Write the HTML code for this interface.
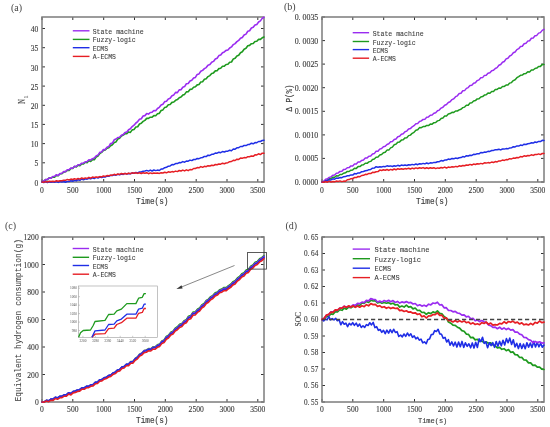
<!DOCTYPE html><html><head><meta charset="utf-8"><style>html,body{margin:0;padding:0;background:#fff;width:550px;height:427px;overflow:hidden}svg{display:block;will-change:transform}</style></head><body><svg width="550" height="427" viewBox="0 0 550 427">
<style>.tk{font-family:"Liberation Serif",serif;font-size:7.6px;fill:#3c3c3c;stroke:#3c3c3c;stroke-width:0.12}.lg{font-family:"Liberation Mono",monospace;fill:#3c3c3c;stroke:#3c3c3c;stroke-width:0.1}.lb{font-family:"Liberation Mono",monospace;fill:#3c3c3c;stroke:#3c3c3c;stroke-width:0.15}.pl{font-family:"Liberation Serif",serif;font-size:10px;fill:#444}</style>
<rect width="550" height="427" fill="#fff"/>
<text x="11" y="11.3" class="pl">(a)</text>
<line x1="42.0" y1="182.0" x2="42.0" y2="179.0" stroke="#333" stroke-width="1"/>
<line x1="42.0" y1="17.0" x2="42.0" y2="20.0" stroke="#333" stroke-width="1"/>
<text x="42.0" y="192.8" text-anchor="middle" class="tk">0</text>
<line x1="72.8" y1="182.0" x2="72.8" y2="179.0" stroke="#333" stroke-width="1"/>
<line x1="72.8" y1="17.0" x2="72.8" y2="20.0" stroke="#333" stroke-width="1"/>
<text x="72.8" y="192.8" text-anchor="middle" class="tk">500</text>
<line x1="103.7" y1="182.0" x2="103.7" y2="179.0" stroke="#333" stroke-width="1"/>
<line x1="103.7" y1="17.0" x2="103.7" y2="20.0" stroke="#333" stroke-width="1"/>
<text x="103.7" y="192.8" text-anchor="middle" class="tk">1000</text>
<line x1="134.5" y1="182.0" x2="134.5" y2="179.0" stroke="#333" stroke-width="1"/>
<line x1="134.5" y1="17.0" x2="134.5" y2="20.0" stroke="#333" stroke-width="1"/>
<text x="134.5" y="192.8" text-anchor="middle" class="tk">1500</text>
<line x1="165.3" y1="182.0" x2="165.3" y2="179.0" stroke="#333" stroke-width="1"/>
<line x1="165.3" y1="17.0" x2="165.3" y2="20.0" stroke="#333" stroke-width="1"/>
<text x="165.3" y="192.8" text-anchor="middle" class="tk">2000</text>
<line x1="196.2" y1="182.0" x2="196.2" y2="179.0" stroke="#333" stroke-width="1"/>
<line x1="196.2" y1="17.0" x2="196.2" y2="20.0" stroke="#333" stroke-width="1"/>
<text x="196.2" y="192.8" text-anchor="middle" class="tk">2500</text>
<line x1="227.0" y1="182.0" x2="227.0" y2="179.0" stroke="#333" stroke-width="1"/>
<line x1="227.0" y1="17.0" x2="227.0" y2="20.0" stroke="#333" stroke-width="1"/>
<text x="227.0" y="192.8" text-anchor="middle" class="tk">3000</text>
<line x1="257.8" y1="182.0" x2="257.8" y2="179.0" stroke="#333" stroke-width="1"/>
<line x1="257.8" y1="17.0" x2="257.8" y2="20.0" stroke="#333" stroke-width="1"/>
<text x="257.8" y="192.8" text-anchor="middle" class="tk">3500</text>
<line x1="42.0" y1="182.0" x2="45.0" y2="182.0" stroke="#333" stroke-width="1"/>
<line x1="264.0" y1="182.0" x2="261.0" y2="182.0" stroke="#333" stroke-width="1"/>
<text x="38.3" y="185.6" text-anchor="end" class="tk">0</text>
<line x1="42.0" y1="162.8" x2="45.0" y2="162.8" stroke="#333" stroke-width="1"/>
<line x1="264.0" y1="162.8" x2="261.0" y2="162.8" stroke="#333" stroke-width="1"/>
<text x="38.3" y="166.4" text-anchor="end" class="tk">5</text>
<line x1="42.0" y1="143.6" x2="45.0" y2="143.6" stroke="#333" stroke-width="1"/>
<line x1="264.0" y1="143.6" x2="261.0" y2="143.6" stroke="#333" stroke-width="1"/>
<text x="38.3" y="147.2" text-anchor="end" class="tk">10</text>
<line x1="42.0" y1="124.4" x2="45.0" y2="124.4" stroke="#333" stroke-width="1"/>
<line x1="264.0" y1="124.4" x2="261.0" y2="124.4" stroke="#333" stroke-width="1"/>
<text x="38.3" y="128.0" text-anchor="end" class="tk">15</text>
<line x1="42.0" y1="105.3" x2="45.0" y2="105.3" stroke="#333" stroke-width="1"/>
<line x1="264.0" y1="105.3" x2="261.0" y2="105.3" stroke="#333" stroke-width="1"/>
<text x="38.3" y="108.9" text-anchor="end" class="tk">20</text>
<line x1="42.0" y1="86.1" x2="45.0" y2="86.1" stroke="#333" stroke-width="1"/>
<line x1="264.0" y1="86.1" x2="261.0" y2="86.1" stroke="#333" stroke-width="1"/>
<text x="38.3" y="89.7" text-anchor="end" class="tk">25</text>
<line x1="42.0" y1="66.9" x2="45.0" y2="66.9" stroke="#333" stroke-width="1"/>
<line x1="264.0" y1="66.9" x2="261.0" y2="66.9" stroke="#333" stroke-width="1"/>
<text x="38.3" y="70.5" text-anchor="end" class="tk">30</text>
<line x1="42.0" y1="47.7" x2="45.0" y2="47.7" stroke="#333" stroke-width="1"/>
<line x1="264.0" y1="47.7" x2="261.0" y2="47.7" stroke="#333" stroke-width="1"/>
<text x="38.3" y="51.3" text-anchor="end" class="tk">35</text>
<line x1="42.0" y1="28.5" x2="45.0" y2="28.5" stroke="#333" stroke-width="1"/>
<line x1="264.0" y1="28.5" x2="261.0" y2="28.5" stroke="#333" stroke-width="1"/>
<text x="38.3" y="32.1" text-anchor="end" class="tk">40</text>
<rect x="42.0" y="17.0" width="222.0" height="165.0" fill="none" stroke="#7c7c7c" stroke-width="1.5"/>
<polyline points="42.0,181.6 43.8,181.2 45.6,179.6 47.4,179.7 49.2,177.8 51.0,178.1 52.8,177.0 54.6,177.1 56.4,175.5 58.2,175.7 60.0,173.7 61.9,173.7 63.7,172.1 65.5,171.8 67.3,170.4 69.1,170.5 70.9,168.4 72.7,168.5 74.5,166.5 76.3,166.9 78.1,165.2 79.9,165.7 81.7,164.0 83.5,164.0 85.3,162.2 87.1,162.6 88.9,160.8 90.7,161.4 92.5,159.7 94.3,159.8 96.1,157.0 98.0,156.0 99.8,153.5 101.6,152.4 103.4,150.5 105.2,150.0 107.0,148.1 108.8,147.7 110.6,145.8 112.4,144.7 114.2,142.4 116.0,141.9 117.8,139.0 119.6,138.2 121.4,136.1 123.2,135.1 125.0,133.8 126.8,133.7 128.6,131.9 130.4,132.4 132.2,129.9 134.0,129.5 135.9,127.0 137.7,126.7 139.5,124.0 141.3,123.3 143.1,121.4 144.9,120.4 146.7,118.4 148.5,118.4 150.3,117.2 152.1,117.2 153.9,115.6 155.7,115.8 157.5,113.8 159.3,113.4 161.1,110.5 162.9,109.9 164.7,107.4 166.5,106.9 168.3,104.8 170.1,104.5 172.0,102.4 173.8,102.0 175.6,100.3 177.4,99.6 179.2,97.8 181.0,97.0 182.8,95.1 184.6,94.4 186.4,91.9 188.2,91.7 190.0,89.4 191.8,89.2 193.6,87.3 195.4,86.8 197.2,84.9 199.0,84.5 200.8,82.0 202.6,81.7 204.4,79.3 206.2,78.7 208.0,76.6 209.9,75.6 211.7,73.4 213.5,72.9 215.3,70.9 217.1,70.7 218.9,68.6 220.7,68.2 222.5,66.3 224.3,66.2 226.1,64.5 227.9,64.3 229.7,62.2 231.5,62.0 233.3,58.9 235.1,58.3 236.9,56.0 238.7,55.3 240.5,52.7 242.3,51.8 244.1,49.2 246.0,48.3 247.8,45.8 249.6,45.4 251.4,43.7 253.2,43.5 255.0,41.5 256.8,41.2 258.6,39.4 260.4,39.4 262.2,37.8 264.0,37.0" fill="none" stroke="#1e9a1e" stroke-width="1.60" stroke-linejoin="round" stroke-linecap="round"/>
<polyline points="42.0,181.6 43.8,181.0 45.6,179.6 47.4,179.4 49.2,178.0 51.0,178.1 52.8,176.5 54.6,176.3 56.4,174.7 58.2,175.4 60.0,173.6 61.9,173.3 63.7,171.5 65.5,171.6 67.3,169.7 69.1,169.6 70.9,168.0 72.7,168.2 74.5,166.2 76.3,166.5 78.1,164.7 79.9,164.8 81.7,163.2 83.5,163.0 85.3,161.9 87.1,161.5 88.9,159.8 90.7,160.0 92.5,158.7 94.3,158.1 96.1,155.9 98.0,155.1 99.8,152.4 101.6,152.0 103.4,149.6 105.2,149.6 107.0,147.2 108.8,146.6 110.6,143.5 112.4,143.1 114.2,139.8 116.0,139.0 117.8,137.5 119.6,137.3 121.4,135.3 123.2,134.6 125.0,132.6 126.8,132.1 128.6,129.8 130.4,128.8 132.2,126.6 134.0,125.2 135.9,123.0 137.7,121.6 139.5,119.3 141.3,118.7 143.1,116.0 144.9,115.6 146.7,113.6 148.5,114.1 150.3,112.5 152.1,112.2 153.9,110.5 155.7,110.8 157.5,108.5 159.3,107.3 161.1,104.9 162.9,104.2 164.7,101.6 166.5,101.2 168.3,98.9 170.1,98.3 172.0,95.7 173.8,94.9 175.6,92.4 177.4,92.6 179.2,89.9 181.0,89.7 182.8,87.2 184.6,86.6 186.4,83.8 188.2,83.5 190.0,81.0 191.8,80.2 193.6,78.1 195.4,77.4 197.2,74.4 199.0,73.9 200.8,71.3 202.6,70.4 204.4,68.6 206.2,67.6 208.0,65.2 209.9,64.6 211.7,62.3 213.5,61.4 215.3,59.0 217.1,58.2 218.9,55.6 220.7,55.1 222.5,52.7 224.3,51.9 226.1,50.4 227.9,50.0 229.7,48.0 231.5,46.9 233.3,44.6 235.1,43.6 236.9,41.6 238.7,40.4 240.5,38.2 242.3,37.4 244.1,35.0 246.0,34.1 247.8,31.3 249.6,30.8 251.4,28.0 253.2,27.3 255.0,25.0 256.8,24.4 258.6,22.0 260.4,20.9 262.2,18.4 264.0,17.3" fill="none" stroke="#9a2cf0" stroke-width="1.60" stroke-linejoin="round" stroke-linecap="round"/>
<polyline points="42.0,182.0 43.8,182.6 45.6,181.5 47.4,182.5 49.2,181.7 51.0,182.3 52.8,181.7 54.6,182.2 56.4,181.5 58.2,182.4 60.0,181.5 61.9,181.9 63.7,181.5 65.5,182.2 67.3,181.4 69.1,181.6 70.9,180.8 72.7,181.3 74.5,180.4 76.3,180.9 78.1,179.7 79.9,180.3 81.7,179.0 83.5,179.8 85.3,178.8 87.1,179.2 88.9,178.3 90.7,178.9 92.5,177.8 94.3,178.5 96.1,177.4 98.0,178.1 99.8,177.0 101.6,177.5 103.4,176.7 105.2,177.0 107.0,176.1 108.8,176.3 110.6,175.4 112.4,175.6 114.2,174.7 116.0,175.2 117.8,174.3 119.6,174.8 121.4,174.1 123.2,174.4 125.0,173.4 126.8,174.0 128.6,173.5 130.4,173.8 132.2,173.0 134.0,173.3 135.9,172.5 137.7,173.0 139.5,171.9 141.3,172.0 143.1,171.2 144.9,171.0 146.7,170.4 148.5,171.1 150.3,170.1 152.1,171.0 153.9,170.0 155.7,170.6 157.5,170.1 159.3,170.5 161.1,169.1 162.9,168.9 164.7,167.7 166.5,167.3 168.3,166.2 170.1,165.9 172.0,164.6 173.8,164.7 175.6,163.6 177.4,163.6 179.2,162.6 181.0,162.7 182.8,161.6 184.6,162.2 186.4,161.1 188.2,161.2 190.0,160.1 191.8,160.6 193.6,159.5 195.4,159.6 197.2,158.4 199.0,158.7 200.8,157.8 202.6,157.5 204.4,156.4 206.2,156.6 208.0,155.2 209.9,155.4 211.7,154.3 213.5,154.2 215.3,153.1 217.1,153.2 218.9,152.2 220.7,152.7 222.5,151.5 224.3,152.0 226.1,151.2 227.9,151.2 229.7,150.2 231.5,150.7 233.3,149.0 235.1,149.2 236.9,147.8 238.7,147.7 240.5,146.5 242.3,146.6 244.1,145.4 246.0,145.6 247.8,144.6 249.6,144.4 251.4,143.2 253.2,143.8 255.0,142.6 256.8,142.7 258.6,141.5 260.4,141.5 262.2,140.5 264.0,140.2" fill="none" stroke="#1f2ee6" stroke-width="1.50" stroke-linejoin="round" stroke-linecap="round"/>
<polyline points="42.0,182.0 43.8,182.2 45.6,181.6 47.4,182.0 49.2,181.2 51.0,181.5 52.8,181.2 54.6,181.6 56.4,180.7 58.2,181.3 60.0,180.7 61.9,180.7 63.7,180.2 65.5,180.3 67.3,179.4 69.1,180.0 70.9,179.1 72.7,179.5 74.5,178.8 76.3,179.4 78.1,178.5 79.9,179.1 81.7,177.9 83.5,178.7 85.3,177.9 87.1,178.4 88.9,177.3 90.7,178.2 92.5,177.1 94.3,177.4 96.1,177.0 98.0,177.3 99.8,176.6 101.6,176.9 103.4,176.0 105.2,176.4 107.0,175.6 108.8,175.8 110.6,175.1 112.4,175.2 114.2,174.3 116.0,174.9 117.8,174.0 119.6,174.4 121.4,173.5 123.2,174.0 125.0,173.5 126.8,174.0 128.6,173.1 130.4,173.7 132.2,172.8 134.0,173.2 135.9,172.8 137.7,173.4 139.5,172.7 141.3,173.5 143.1,172.8 144.9,173.2 146.7,172.7 148.5,173.7 150.3,172.9 152.1,173.5 153.9,173.1 155.7,173.3 157.5,173.1 159.3,173.4 161.1,172.7 162.9,173.0 164.7,172.2 166.5,172.8 168.3,171.8 170.1,172.2 172.0,171.6 173.8,171.9 175.6,171.1 177.4,171.6 179.2,170.5 181.0,171.0 182.8,170.1 184.6,170.9 186.4,169.8 188.2,170.7 190.0,169.5 191.8,169.8 193.6,168.5 195.4,168.5 197.2,167.6 199.0,167.8 200.8,166.6 202.6,167.3 204.4,166.3 206.2,166.7 208.0,165.7 209.9,166.0 211.7,165.2 213.5,165.6 215.3,164.5 217.1,164.8 218.9,164.0 220.7,164.2 222.5,163.2 224.3,163.7 226.1,163.0 227.9,162.7 229.7,161.7 231.5,161.5 233.3,160.3 235.1,160.5 236.9,159.2 238.7,159.4 240.5,158.1 242.3,158.2 244.1,157.6 246.0,157.8 247.8,156.7 249.6,156.7 251.4,155.9 253.2,156.3 255.0,154.8 256.8,154.9 258.6,153.8 260.4,154.6 262.2,153.2 264.0,153.2" fill="none" stroke="#e61e24" stroke-width="1.50" stroke-linejoin="round" stroke-linecap="round"/>
<line x1="72.8" y1="30.8" x2="89.5" y2="30.8" stroke="#9a2cf0" stroke-width="1.4"/>
<text x="92.7" y="33.8" class="lg" style="font-size:7.5px" textLength="50.9" lengthAdjust="spacingAndGlyphs">State machine</text>
<line x1="72.8" y1="39.4" x2="89.5" y2="39.4" stroke="#1e9a1e" stroke-width="1.4"/>
<text x="92.7" y="42.4" class="lg" style="font-size:7.5px" textLength="43.0" lengthAdjust="spacingAndGlyphs">Fuzzy-logic</text>
<line x1="72.8" y1="47.7" x2="89.5" y2="47.7" stroke="#1f2ee6" stroke-width="1.4"/>
<text x="92.7" y="50.7" class="lg" style="font-size:7.5px" textLength="15.3" lengthAdjust="spacingAndGlyphs">ECMS</text>
<line x1="72.8" y1="56.4" x2="89.5" y2="56.4" stroke="#e61e24" stroke-width="1.4"/>
<text x="92.7" y="59.4" class="lg" style="font-size:7.5px" textLength="23.2" lengthAdjust="spacingAndGlyphs">A-ECMS</text>
<text x="136" y="203.9" class="lb" style="font-size:8.4px" textLength="32.5" lengthAdjust="spacingAndGlyphs">Time(s)</text>
<g transform="translate(25.3,101.3) rotate(-90)"><text x="-2.6" y="0" class="tk" style="font-size:9.6px" textLength="5" lengthAdjust="spacingAndGlyphs">N</text><text x="2.9" y="2.4" class="tk" style="font-size:6px;stroke-width:0.05">1</text></g>
<text x="284" y="10" class="pl">(b)</text>
<line x1="322.0" y1="182.0" x2="322.0" y2="179.0" stroke="#333" stroke-width="1"/>
<line x1="322.0" y1="17.0" x2="322.0" y2="20.0" stroke="#333" stroke-width="1"/>
<text x="322.0" y="192.8" text-anchor="middle" class="tk">0</text>
<line x1="352.8" y1="182.0" x2="352.8" y2="179.0" stroke="#333" stroke-width="1"/>
<line x1="352.8" y1="17.0" x2="352.8" y2="20.0" stroke="#333" stroke-width="1"/>
<text x="352.8" y="192.8" text-anchor="middle" class="tk">500</text>
<line x1="383.7" y1="182.0" x2="383.7" y2="179.0" stroke="#333" stroke-width="1"/>
<line x1="383.7" y1="17.0" x2="383.7" y2="20.0" stroke="#333" stroke-width="1"/>
<text x="383.7" y="192.8" text-anchor="middle" class="tk">1000</text>
<line x1="414.5" y1="182.0" x2="414.5" y2="179.0" stroke="#333" stroke-width="1"/>
<line x1="414.5" y1="17.0" x2="414.5" y2="20.0" stroke="#333" stroke-width="1"/>
<text x="414.5" y="192.8" text-anchor="middle" class="tk">1500</text>
<line x1="445.3" y1="182.0" x2="445.3" y2="179.0" stroke="#333" stroke-width="1"/>
<line x1="445.3" y1="17.0" x2="445.3" y2="20.0" stroke="#333" stroke-width="1"/>
<text x="445.3" y="192.8" text-anchor="middle" class="tk">2000</text>
<line x1="476.2" y1="182.0" x2="476.2" y2="179.0" stroke="#333" stroke-width="1"/>
<line x1="476.2" y1="17.0" x2="476.2" y2="20.0" stroke="#333" stroke-width="1"/>
<text x="476.2" y="192.8" text-anchor="middle" class="tk">2500</text>
<line x1="507.0" y1="182.0" x2="507.0" y2="179.0" stroke="#333" stroke-width="1"/>
<line x1="507.0" y1="17.0" x2="507.0" y2="20.0" stroke="#333" stroke-width="1"/>
<text x="507.0" y="192.8" text-anchor="middle" class="tk">3000</text>
<line x1="537.8" y1="182.0" x2="537.8" y2="179.0" stroke="#333" stroke-width="1"/>
<line x1="537.8" y1="17.0" x2="537.8" y2="20.0" stroke="#333" stroke-width="1"/>
<text x="537.8" y="192.8" text-anchor="middle" class="tk">3500</text>
<line x1="322.0" y1="182.0" x2="325.0" y2="182.0" stroke="#333" stroke-width="1"/>
<line x1="544.0" y1="182.0" x2="541.0" y2="182.0" stroke="#333" stroke-width="1"/>
<text x="318.3" y="185.0" text-anchor="end" class="tk" style="font-size:7.9px">0. 0000</text>
<line x1="322.0" y1="158.4" x2="325.0" y2="158.4" stroke="#333" stroke-width="1"/>
<line x1="544.0" y1="158.4" x2="541.0" y2="158.4" stroke="#333" stroke-width="1"/>
<text x="318.3" y="161.4" text-anchor="end" class="tk" style="font-size:7.9px">0. 0005</text>
<line x1="322.0" y1="134.9" x2="325.0" y2="134.9" stroke="#333" stroke-width="1"/>
<line x1="544.0" y1="134.9" x2="541.0" y2="134.9" stroke="#333" stroke-width="1"/>
<text x="318.3" y="137.9" text-anchor="end" class="tk" style="font-size:7.9px">0. 0010</text>
<line x1="322.0" y1="111.3" x2="325.0" y2="111.3" stroke="#333" stroke-width="1"/>
<line x1="544.0" y1="111.3" x2="541.0" y2="111.3" stroke="#333" stroke-width="1"/>
<text x="318.3" y="114.3" text-anchor="end" class="tk" style="font-size:7.9px">0. 0015</text>
<line x1="322.0" y1="87.7" x2="325.0" y2="87.7" stroke="#333" stroke-width="1"/>
<line x1="544.0" y1="87.7" x2="541.0" y2="87.7" stroke="#333" stroke-width="1"/>
<text x="318.3" y="90.7" text-anchor="end" class="tk" style="font-size:7.9px">0. 0020</text>
<line x1="322.0" y1="64.1" x2="325.0" y2="64.1" stroke="#333" stroke-width="1"/>
<line x1="544.0" y1="64.1" x2="541.0" y2="64.1" stroke="#333" stroke-width="1"/>
<text x="318.3" y="67.1" text-anchor="end" class="tk" style="font-size:7.9px">0. 0025</text>
<line x1="322.0" y1="40.6" x2="325.0" y2="40.6" stroke="#333" stroke-width="1"/>
<line x1="544.0" y1="40.6" x2="541.0" y2="40.6" stroke="#333" stroke-width="1"/>
<text x="318.3" y="43.6" text-anchor="end" class="tk" style="font-size:7.9px">0. 0030</text>
<line x1="322.0" y1="17.0" x2="325.0" y2="17.0" stroke="#333" stroke-width="1"/>
<line x1="544.0" y1="17.0" x2="541.0" y2="17.0" stroke="#333" stroke-width="1"/>
<text x="318.3" y="20.0" text-anchor="end" class="tk" style="font-size:7.9px">0. 0035</text>
<rect x="322.0" y="17.0" width="222.0" height="165.0" fill="none" stroke="#7c7c7c" stroke-width="1.5"/>
<polyline points="322.0,182.0 323.8,181.5 325.6,180.3 327.4,180.1 329.2,178.5 331.0,178.5 332.8,177.2 334.6,177.3 336.4,175.7 338.2,176.0 340.0,174.5 341.9,174.5 343.7,173.2 345.5,172.8 347.3,171.4 349.1,171.5 350.9,170.2 352.7,169.9 354.5,168.3 356.3,168.4 358.1,166.6 359.9,166.6 361.7,165.1 363.5,164.8 365.3,163.2 367.1,163.3 368.9,161.9 370.7,161.4 372.5,159.4 374.3,159.0 376.1,157.3 378.0,156.9 379.8,155.0 381.6,154.5 383.4,152.7 385.2,152.3 387.0,150.1 388.8,150.1 390.6,147.9 392.4,147.1 394.2,144.8 396.0,144.1 397.8,142.3 399.6,141.9 401.4,140.1 403.2,139.7 405.0,137.9 406.8,137.8 408.6,135.6 410.4,135.1 412.2,133.3 414.0,132.3 415.9,130.3 417.7,129.8 419.5,127.6 421.3,127.7 423.1,126.6 424.9,126.6 426.7,125.4 428.5,125.6 430.3,124.1 432.1,124.2 433.9,122.7 435.7,122.5 437.5,120.9 439.3,120.4 441.1,118.5 442.9,118.1 444.7,116.1 446.5,115.9 448.3,114.0 450.1,113.6 452.0,112.3 453.8,112.4 455.6,111.0 457.4,111.0 459.2,109.9 461.0,109.2 462.8,107.6 464.6,107.1 466.4,105.2 468.2,105.2 470.0,103.1 471.8,102.8 473.6,101.0 475.4,100.6 477.2,98.9 479.0,98.8 480.8,96.9 482.6,96.6 484.4,95.1 486.2,94.7 488.0,93.1 489.9,93.3 491.7,91.5 493.5,91.5 495.3,89.6 497.1,89.4 498.9,88.0 500.7,88.2 502.5,86.5 504.3,86.4 506.1,85.1 507.9,85.1 509.7,83.1 511.5,82.6 513.3,80.6 515.1,79.8 516.9,77.7 518.7,76.6 520.5,75.3 522.3,75.1 524.1,73.7 526.0,73.4 527.8,71.8 529.6,71.9 531.4,70.0 533.2,70.0 535.0,68.5 536.8,68.1 538.6,66.5 540.4,66.4 542.2,64.6 544.0,64.4" fill="none" stroke="#1e9a1e" stroke-width="1.50" stroke-linejoin="round" stroke-linecap="round"/>
<polyline points="322.0,182.0 323.8,181.3 325.6,179.2 327.4,178.8 329.2,177.4 331.0,176.9 332.8,175.2 334.6,175.0 336.4,173.2 338.2,172.9 340.0,171.4 341.9,171.2 343.7,169.4 345.5,169.3 347.3,167.7 349.1,167.6 350.9,165.9 352.7,165.9 354.5,164.0 356.3,164.0 358.1,161.9 359.9,162.0 361.7,160.4 363.5,160.0 365.3,158.0 367.1,157.9 368.9,156.3 370.7,156.1 372.5,154.0 374.3,153.6 376.1,151.3 378.0,151.2 379.8,149.1 381.6,148.5 383.4,146.7 385.2,146.3 387.0,144.5 388.8,143.7 390.6,141.8 392.4,141.4 394.2,139.5 396.0,139.0 397.8,136.8 399.6,136.3 401.4,134.3 403.2,133.8 405.0,131.7 406.8,131.1 408.6,129.0 410.4,128.6 412.2,126.8 414.0,125.7 415.9,123.8 417.7,123.4 419.5,121.5 421.3,120.9 423.1,119.4 424.9,119.2 426.7,117.3 428.5,116.9 430.3,115.3 432.1,115.0 433.9,113.3 435.7,112.7 437.5,110.8 439.3,110.1 441.1,108.1 442.9,107.3 444.7,105.2 446.5,104.5 448.3,102.5 450.1,101.8 452.0,99.6 453.8,98.8 455.6,96.7 457.4,95.8 459.2,93.5 461.0,93.2 462.8,90.7 464.6,90.6 466.4,88.4 468.2,87.6 470.0,85.6 471.8,85.2 473.6,83.2 475.4,82.7 477.2,80.6 479.0,79.9 480.8,77.7 482.6,77.6 484.4,75.4 486.2,75.3 488.0,73.2 489.9,72.8 491.7,70.7 493.5,70.3 495.3,68.5 497.1,67.6 498.9,65.3 500.7,64.5 502.5,62.2 504.3,61.5 506.1,58.9 507.9,58.2 509.7,56.0 511.5,55.1 513.3,52.8 515.1,52.0 516.9,49.6 518.7,48.7 520.5,46.6 522.3,46.3 524.1,43.7 526.0,43.3 527.8,41.1 529.6,40.8 531.4,38.3 533.2,38.0 535.0,35.8 536.8,35.4 538.6,33.1 540.4,32.6 542.2,30.4 544.0,29.3" fill="none" stroke="#9a2cf0" stroke-width="1.50" stroke-linejoin="round" stroke-linecap="round"/>
<polyline points="322.0,182.0 323.8,182.0 325.6,180.8 327.4,180.7 329.2,179.7 331.0,180.0 332.8,178.8 334.6,179.2 336.4,178.1 338.2,178.2 340.0,177.5 341.9,177.7 343.7,176.7 345.5,176.6 347.3,175.8 349.1,175.7 350.9,174.9 352.7,175.1 354.5,173.6 356.3,173.9 358.1,172.9 359.9,172.9 361.7,171.7 363.5,171.5 365.3,170.7 367.1,170.6 368.9,169.7 370.7,169.4 372.5,168.2 374.3,168.1 376.1,166.7 378.0,167.2 379.8,166.7 381.6,167.0 383.4,166.4 385.2,166.7 387.0,165.8 388.8,166.3 390.6,165.9 392.4,166.5 394.2,165.7 396.0,166.2 397.8,165.3 399.6,166.0 401.4,165.1 403.2,165.5 405.0,165.1 406.8,165.5 408.6,164.7 410.4,165.0 412.2,164.4 414.0,164.9 415.9,164.0 417.7,164.7 419.5,163.7 421.3,164.1 423.1,163.4 424.9,163.9 426.7,163.0 428.5,163.7 430.3,162.8 432.1,163.1 433.9,162.4 435.7,162.5 437.5,161.7 439.3,161.7 441.1,160.6 442.9,161.0 444.7,160.1 446.5,160.0 448.3,159.1 450.1,159.4 452.0,158.5 453.8,158.8 455.6,158.1 457.4,158.5 459.2,157.7 461.0,157.6 462.8,156.6 464.6,157.0 466.4,155.7 468.2,156.0 470.0,155.2 471.8,155.4 473.6,154.3 475.4,154.4 477.2,153.7 479.0,153.8 480.8,152.5 482.6,152.8 484.4,152.1 486.2,152.2 488.0,151.3 489.9,151.4 491.7,150.5 493.5,150.4 495.3,149.7 497.1,149.8 498.9,149.3 500.7,149.9 502.5,149.0 504.3,149.1 506.1,148.6 507.9,148.8 509.7,147.9 511.5,147.8 513.3,146.7 515.1,146.9 516.9,145.9 518.7,146.1 520.5,145.1 522.3,145.5 524.1,144.2 526.0,144.5 527.8,143.7 529.6,143.6 531.4,142.8 533.2,143.1 535.0,142.0 536.8,142.4 538.6,141.4 540.4,141.6 542.2,140.3 544.0,140.4" fill="none" stroke="#1f2ee6" stroke-width="1.50" stroke-linejoin="round" stroke-linecap="round"/>
<polyline points="322.0,182.0 323.8,182.3 325.6,181.5 327.4,182.2 329.2,181.2 331.0,182.1 332.8,181.5 334.6,181.7 336.4,181.1 338.2,181.4 340.0,180.9 341.9,181.6 343.7,181.1 345.5,181.3 347.3,179.7 349.1,179.6 350.9,178.7 352.7,178.6 354.5,177.5 356.3,177.6 358.1,176.5 359.9,176.7 361.7,175.5 363.5,175.3 365.3,174.3 367.1,174.4 368.9,173.4 370.7,173.6 372.5,172.3 374.3,172.5 376.1,171.7 378.0,171.6 379.8,170.1 381.6,170.5 383.4,169.8 385.2,170.3 387.0,169.5 388.8,170.4 390.6,169.4 392.4,170.0 394.2,169.0 396.0,169.8 397.8,168.7 399.6,169.2 401.4,168.7 403.2,169.3 405.0,168.6 406.8,168.9 408.6,168.2 410.4,169.0 412.2,168.1 414.0,168.8 415.9,167.9 417.7,168.5 419.5,167.8 421.3,168.3 423.1,167.6 424.9,168.5 426.7,167.8 428.5,168.5 430.3,167.7 432.1,168.3 433.9,167.7 435.7,168.6 437.5,167.9 439.3,168.2 441.1,167.5 442.9,167.9 444.7,167.1 446.5,168.0 448.3,167.1 450.1,167.4 452.0,166.8 453.8,167.1 455.6,166.4 457.4,166.8 459.2,165.8 461.0,166.2 462.8,165.5 464.6,165.8 466.4,165.0 468.2,165.2 470.0,164.4 471.8,165.0 473.6,164.1 475.4,164.5 477.2,163.7 479.0,164.1 480.8,163.4 482.6,163.9 484.4,162.8 486.2,163.1 488.0,162.6 489.9,162.9 491.7,162.1 493.5,162.5 495.3,161.6 497.1,161.9 498.9,160.9 500.7,160.9 502.5,160.1 504.3,160.4 506.1,159.6 507.9,159.7 509.7,158.7 511.5,158.9 513.3,158.1 515.1,158.3 516.9,157.5 518.7,157.7 520.5,156.6 522.3,156.9 524.1,155.8 526.0,156.2 527.8,155.5 529.6,155.7 531.4,154.8 533.2,155.4 535.0,154.5 536.8,154.6 538.6,153.9 540.4,154.6 542.2,153.5 544.0,153.5" fill="none" stroke="#e61e24" stroke-width="1.50" stroke-linejoin="round" stroke-linecap="round"/>
<line x1="352.7" y1="32.7" x2="369.1" y2="32.7" stroke="#9a2cf0" stroke-width="1.4"/>
<text x="372.7" y="35.7" class="lg" style="font-size:7.5px" textLength="50.9" lengthAdjust="spacingAndGlyphs">State machine</text>
<line x1="352.7" y1="41.5" x2="369.1" y2="41.5" stroke="#1e9a1e" stroke-width="1.4"/>
<text x="372.7" y="44.5" class="lg" style="font-size:7.5px" textLength="43.0" lengthAdjust="spacingAndGlyphs">Fuzzy-logic</text>
<line x1="352.7" y1="49.6" x2="369.1" y2="49.6" stroke="#1f2ee6" stroke-width="1.4"/>
<text x="372.7" y="52.6" class="lg" style="font-size:7.5px" textLength="15.3" lengthAdjust="spacingAndGlyphs">ECMS</text>
<line x1="352.7" y1="58.2" x2="369.1" y2="58.2" stroke="#e61e24" stroke-width="1.4"/>
<text x="372.7" y="61.2" class="lg" style="font-size:7.5px" textLength="23.2" lengthAdjust="spacingAndGlyphs">A-ECMS</text>
<text x="416" y="203.9" class="lb" style="font-size:8.4px" textLength="32.5" lengthAdjust="spacingAndGlyphs">Time(s)</text>
<g transform="translate(291.6,98) rotate(-90)"><text x="-13.6" y="0" class="lb" style="font-size:9.6px" textLength="27.2" lengthAdjust="spacingAndGlyphs">Δ P(%)</text></g>
<text x="5" y="229" class="pl">(c)</text>
<line x1="42.0" y1="402.0" x2="42.0" y2="399.0" stroke="#333" stroke-width="1"/>
<line x1="42.0" y1="237.0" x2="42.0" y2="240.0" stroke="#333" stroke-width="1"/>
<text x="42.0" y="412.3" text-anchor="middle" class="tk">0</text>
<line x1="72.8" y1="402.0" x2="72.8" y2="399.0" stroke="#333" stroke-width="1"/>
<line x1="72.8" y1="237.0" x2="72.8" y2="240.0" stroke="#333" stroke-width="1"/>
<text x="72.8" y="412.3" text-anchor="middle" class="tk">500</text>
<line x1="103.7" y1="402.0" x2="103.7" y2="399.0" stroke="#333" stroke-width="1"/>
<line x1="103.7" y1="237.0" x2="103.7" y2="240.0" stroke="#333" stroke-width="1"/>
<text x="103.7" y="412.3" text-anchor="middle" class="tk">1000</text>
<line x1="134.5" y1="402.0" x2="134.5" y2="399.0" stroke="#333" stroke-width="1"/>
<line x1="134.5" y1="237.0" x2="134.5" y2="240.0" stroke="#333" stroke-width="1"/>
<text x="134.5" y="412.3" text-anchor="middle" class="tk">1500</text>
<line x1="165.3" y1="402.0" x2="165.3" y2="399.0" stroke="#333" stroke-width="1"/>
<line x1="165.3" y1="237.0" x2="165.3" y2="240.0" stroke="#333" stroke-width="1"/>
<text x="165.3" y="412.3" text-anchor="middle" class="tk">2000</text>
<line x1="196.2" y1="402.0" x2="196.2" y2="399.0" stroke="#333" stroke-width="1"/>
<line x1="196.2" y1="237.0" x2="196.2" y2="240.0" stroke="#333" stroke-width="1"/>
<text x="196.2" y="412.3" text-anchor="middle" class="tk">2500</text>
<line x1="227.0" y1="402.0" x2="227.0" y2="399.0" stroke="#333" stroke-width="1"/>
<line x1="227.0" y1="237.0" x2="227.0" y2="240.0" stroke="#333" stroke-width="1"/>
<text x="227.0" y="412.3" text-anchor="middle" class="tk">3000</text>
<line x1="257.8" y1="402.0" x2="257.8" y2="399.0" stroke="#333" stroke-width="1"/>
<line x1="257.8" y1="237.0" x2="257.8" y2="240.0" stroke="#333" stroke-width="1"/>
<text x="257.8" y="412.3" text-anchor="middle" class="tk">3500</text>
<line x1="42.0" y1="402.0" x2="45.0" y2="402.0" stroke="#333" stroke-width="1"/>
<line x1="264.0" y1="402.0" x2="261.0" y2="402.0" stroke="#333" stroke-width="1"/>
<text x="38.7" y="405.2" text-anchor="end" class="tk">0</text>
<line x1="42.0" y1="374.5" x2="45.0" y2="374.5" stroke="#333" stroke-width="1"/>
<line x1="264.0" y1="374.5" x2="261.0" y2="374.5" stroke="#333" stroke-width="1"/>
<text x="38.7" y="377.7" text-anchor="end" class="tk">200</text>
<line x1="42.0" y1="347.0" x2="45.0" y2="347.0" stroke="#333" stroke-width="1"/>
<line x1="264.0" y1="347.0" x2="261.0" y2="347.0" stroke="#333" stroke-width="1"/>
<text x="38.7" y="350.2" text-anchor="end" class="tk">400</text>
<line x1="42.0" y1="319.5" x2="45.0" y2="319.5" stroke="#333" stroke-width="1"/>
<line x1="264.0" y1="319.5" x2="261.0" y2="319.5" stroke="#333" stroke-width="1"/>
<text x="38.7" y="322.7" text-anchor="end" class="tk">600</text>
<line x1="42.0" y1="292.0" x2="45.0" y2="292.0" stroke="#333" stroke-width="1"/>
<line x1="264.0" y1="292.0" x2="261.0" y2="292.0" stroke="#333" stroke-width="1"/>
<text x="38.7" y="295.2" text-anchor="end" class="tk">800</text>
<line x1="42.0" y1="264.5" x2="45.0" y2="264.5" stroke="#333" stroke-width="1"/>
<line x1="264.0" y1="264.5" x2="261.0" y2="264.5" stroke="#333" stroke-width="1"/>
<text x="38.7" y="267.7" text-anchor="end" class="tk">1000</text>
<line x1="42.0" y1="237.0" x2="45.0" y2="237.0" stroke="#333" stroke-width="1"/>
<line x1="264.0" y1="237.0" x2="261.0" y2="237.0" stroke="#333" stroke-width="1"/>
<text x="38.7" y="240.2" text-anchor="end" class="tk">1200</text>
<rect x="42.0" y="237.0" width="222.0" height="165.0" fill="none" stroke="#7c7c7c" stroke-width="1.5"/>
<polyline points="42.0,402.0 44.2,401.8 46.4,400.4 48.7,400.8 50.9,399.1 53.1,399.1 55.3,397.3 57.5,398.0 59.8,396.4 62.0,396.2 64.2,394.8 66.4,394.9 68.6,392.7 70.9,393.5 73.1,391.5 75.3,391.0 77.5,390.0 79.7,389.7 82.0,387.8 84.2,387.9 86.4,386.4 88.6,386.3 90.8,384.9 93.1,384.5 95.3,382.4 97.5,382.1 99.7,379.9 101.9,379.5 104.2,377.8 106.4,377.2 108.6,375.6 110.8,375.0 113.0,373.0 115.3,372.2 117.5,370.1 119.7,369.5 121.9,367.0 124.1,366.5 126.4,364.2 128.6,364.0 130.8,361.6 133.0,361.4 135.2,358.5 137.5,356.9 139.7,354.1 141.9,353.0 144.1,350.5 146.3,350.0 148.6,348.6 150.8,348.8 153.0,346.9 155.2,346.8 157.4,344.8 159.7,343.9 161.9,340.9 164.1,340.0 166.3,336.5 168.5,335.3 170.8,332.3 173.0,331.2 175.2,328.1 177.4,326.8 179.6,324.3 181.9,323.5 184.1,320.7 186.3,319.7 188.5,316.3 190.7,315.6 193.0,312.1 195.2,311.9 197.4,309.3 199.6,308.0 201.8,304.9 204.1,303.5 206.3,300.4 208.5,299.1 210.7,296.6 212.9,295.4 215.2,292.8 217.4,292.0 219.6,289.7 221.8,289.1 224.0,287.5 226.3,287.6 228.5,285.6 230.7,284.3 232.9,281.8 235.1,280.8 237.4,278.0 239.6,276.5 241.8,273.8 244.0,272.8 246.2,270.1 248.5,269.3 250.7,266.2 252.9,265.0 255.1,262.3 257.3,261.5 259.6,258.8 261.8,257.6 264.0,255.5" fill="none" stroke="#1e9a1e" stroke-width="1.60" stroke-linejoin="round" stroke-linecap="round"/>
<polyline points="42.0,402.0 44.2,401.8 46.4,400.4 48.7,400.8 50.9,399.1 53.1,399.1 55.3,397.3 57.5,398.0 59.8,396.4 62.0,396.2 64.2,394.8 66.4,394.9 68.6,392.7 70.9,393.5 73.1,391.5 75.3,391.0 77.5,390.0 79.7,389.7 82.0,387.8 84.2,387.9 86.4,386.4 88.6,386.3 90.8,384.9 93.1,384.5 95.3,382.4 97.5,382.1 99.7,379.9 101.9,379.5 104.2,377.8 106.4,377.2 108.6,375.6 110.8,375.0 113.0,373.0 115.3,372.2 117.5,370.1 119.7,369.5 121.9,367.0 124.1,366.5 126.4,364.3 128.6,364.1 130.8,361.8 133.0,361.6 135.2,358.7 137.5,357.1 139.7,354.4 141.9,353.3 144.1,350.9 146.3,350.4 148.6,349.1 150.8,349.2 153.0,347.4 155.2,347.3 157.4,345.4 159.7,344.5 161.9,341.5 164.1,340.7 166.3,337.2 168.5,336.0 170.8,333.1 173.0,332.0 175.2,328.9 177.4,327.7 179.6,325.2 181.9,324.3 184.1,321.6 186.3,320.6 188.5,317.2 190.7,316.5 193.0,313.0 195.2,312.8 197.4,310.2 199.6,308.9 201.8,305.8 204.1,304.4 206.3,301.3 208.5,300.0 210.7,297.5 212.9,296.3 215.2,293.7 217.4,292.9 219.6,290.6 221.8,290.0 224.0,288.4 226.3,288.5 228.5,286.5 230.7,285.2 232.9,282.7 235.1,281.7 237.4,278.9 239.6,277.4 241.8,274.7 244.0,273.7 246.2,271.0 248.5,270.2 250.7,267.1 252.9,265.9 255.1,263.2 257.3,262.4 259.6,259.7 261.8,258.5 264.0,256.4" fill="none" stroke="#9a2cf0" stroke-width="1.60" stroke-linejoin="round" stroke-linecap="round"/>
<polyline points="42.0,402.0 44.2,401.8 46.4,400.4 48.7,400.8 50.9,399.1 53.1,399.1 55.3,397.3 57.5,398.0 59.8,396.4 62.0,396.2 64.2,394.8 66.4,394.9 68.6,392.7 70.9,393.5 73.1,391.5 75.3,391.0 77.5,390.0 79.7,389.7 82.0,387.8 84.2,387.9 86.4,386.4 88.6,386.3 90.8,384.9 93.1,384.5 95.3,382.4 97.5,382.1 99.7,379.9 101.9,379.5 104.2,377.8 106.4,377.2 108.6,375.6 110.8,375.0 113.0,373.0 115.3,372.2 117.5,370.1 119.7,369.5 121.9,367.1 124.1,366.6 126.4,364.3 128.6,364.2 130.8,361.9 133.0,361.7 135.2,358.9 137.5,357.4 139.7,354.7 141.9,353.6 144.1,351.2 146.3,350.8 148.6,349.4 150.8,349.6 153.0,347.8 155.2,347.8 157.4,345.9 159.7,345.0 161.9,342.0 164.1,341.2 166.3,337.8 168.5,336.6 170.8,333.7 173.0,332.7 175.2,329.6 177.4,328.4 179.6,326.0 181.9,325.1 184.1,322.4 186.3,321.4 188.5,318.0 190.7,317.3 193.0,313.8 195.2,313.6 197.4,311.0 199.6,309.7 201.8,306.6 204.1,305.2 206.3,302.1 208.5,300.8 210.7,298.3 212.9,297.1 215.2,294.5 217.4,293.7 219.6,291.4 221.8,290.8 224.0,289.2 226.3,289.3 228.5,287.3 230.7,286.0 232.9,283.5 235.1,282.5 237.4,279.7 239.6,278.2 241.8,275.5 244.0,274.5 246.2,271.8 248.5,271.0 250.7,267.9 252.9,266.7 255.1,264.0 257.3,263.2 259.6,260.5 261.8,259.3 264.0,257.2" fill="none" stroke="#1f2ee6" stroke-width="1.60" stroke-linejoin="round" stroke-linecap="round"/>
<polyline points="42.0,402.0 44.2,402.1 46.4,401.0 48.7,401.7 50.9,400.3 53.1,400.4 55.3,398.6 57.5,399.3 59.8,397.8 62.0,397.6 64.2,396.2 66.4,396.3 68.6,394.1 70.9,394.9 73.1,392.9 75.3,392.4 77.5,391.4 79.7,391.1 82.0,389.2 84.2,389.3 86.4,387.8 88.6,387.7 90.8,386.3 93.1,385.9 95.3,383.8 97.5,383.5 99.7,381.3 101.9,380.9 104.2,379.2 106.4,378.6 108.6,377.0 110.8,376.4 113.0,374.4 115.3,373.6 117.5,371.5 119.7,370.9 121.9,368.5 124.1,368.0 126.4,365.7 128.6,365.6 130.8,363.3 133.0,363.1 135.2,360.3 137.5,358.8 139.7,356.1 141.9,355.0 144.1,352.6 146.3,352.2 148.6,350.8 150.8,351.0 153.0,349.2 155.2,349.2 157.4,347.3 159.7,346.4 161.9,343.4 164.1,342.6 166.3,339.2 168.5,338.0 170.8,335.1 173.0,334.1 175.2,331.0 177.4,329.8 179.6,327.4 181.9,326.5 184.1,323.8 186.3,322.8 188.5,319.4 190.7,318.7 193.0,315.2 195.2,315.0 197.4,312.4 199.6,311.1 201.8,308.0 204.1,306.6 206.3,303.5 208.5,302.2 210.7,299.7 212.9,298.5 215.2,295.9 217.4,295.1 219.6,292.8 221.8,292.2 224.0,290.6 226.3,290.7 228.5,288.7 230.7,287.4 232.9,284.9 235.1,283.9 237.4,281.1 239.6,279.6 241.8,276.9 244.0,275.9 246.2,273.2 248.5,272.4 250.7,269.3 252.9,268.1 255.1,265.4 257.3,264.6 259.6,261.9 261.8,260.7 264.0,258.6" fill="none" stroke="#e61e24" stroke-width="1.60" stroke-linejoin="round" stroke-linecap="round"/>
<line x1="72.7" y1="248.5" x2="89.1" y2="248.5" stroke="#9a2cf0" stroke-width="1.4"/>
<text x="92.7" y="251.5" class="lg" style="font-size:7.5px" textLength="50.9" lengthAdjust="spacingAndGlyphs">State machine</text>
<line x1="72.7" y1="257.3" x2="89.1" y2="257.3" stroke="#1e9a1e" stroke-width="1.4"/>
<text x="92.7" y="260.3" class="lg" style="font-size:7.5px" textLength="43.0" lengthAdjust="spacingAndGlyphs">Fuzzy-logic</text>
<line x1="72.7" y1="265.5" x2="89.1" y2="265.5" stroke="#1f2ee6" stroke-width="1.4"/>
<text x="92.7" y="268.5" class="lg" style="font-size:7.5px" textLength="15.3" lengthAdjust="spacingAndGlyphs">ECMS</text>
<line x1="72.7" y1="274.2" x2="89.1" y2="274.2" stroke="#e61e24" stroke-width="1.4"/>
<text x="92.7" y="277.2" class="lg" style="font-size:7.5px" textLength="23.2" lengthAdjust="spacingAndGlyphs">A-ECMS</text>
<text x="136" y="423.2" class="lb" style="font-size:8.4px" textLength="32.5" lengthAdjust="spacingAndGlyphs">Time(s)</text>
<g transform="translate(21,320.2) rotate(-90)"><text x="-81.3" y="0" class="lb" style="font-size:9.8px;stroke-width:0.05" textLength="162.6" lengthAdjust="spacingAndGlyphs">Equivalent hydrogen consumption(g)</text></g>
<rect x="247.6" y="252.4" width="18.8" height="16.7" fill="none" stroke="#333" stroke-width="0.8"/>
<line x1="234.5" y1="265.5" x2="180" y2="287.6" stroke="#555" stroke-width="0.7"/>
<polygon points="176.4,289.1 181.5,285.3 182.6,288.4" fill="#333"/>
<rect x="78.5" y="286.0" width="79.0" height="51.3" fill="#fff" stroke="#999" stroke-width="0.6"/>
<line x1="78.5" y1="288.2" x2="80.0" y2="288.2" stroke="#999" stroke-width="0.5"/>
<text x="77" y="289.3" text-anchor="end" style="font-family:Liberation Serif;font-size:3.5px;fill:#555">1080</text>
<line x1="78.5" y1="296.7" x2="80.0" y2="296.7" stroke="#999" stroke-width="0.5"/>
<text x="77" y="297.8" text-anchor="end" style="font-family:Liberation Serif;font-size:3.5px;fill:#555">1060</text>
<line x1="78.5" y1="305.2" x2="80.0" y2="305.2" stroke="#999" stroke-width="0.5"/>
<text x="77" y="306.3" text-anchor="end" style="font-family:Liberation Serif;font-size:3.5px;fill:#555">1040</text>
<line x1="78.5" y1="313.6" x2="80.0" y2="313.6" stroke="#999" stroke-width="0.5"/>
<text x="77" y="314.7" text-anchor="end" style="font-family:Liberation Serif;font-size:3.5px;fill:#555">1020</text>
<line x1="78.5" y1="322.1" x2="80.0" y2="322.1" stroke="#999" stroke-width="0.5"/>
<text x="77" y="323.2" text-anchor="end" style="font-family:Liberation Serif;font-size:3.5px;fill:#555">1000</text>
<line x1="78.5" y1="330.6" x2="80.0" y2="330.6" stroke="#999" stroke-width="0.5"/>
<text x="77" y="331.7" text-anchor="end" style="font-family:Liberation Serif;font-size:3.5px;fill:#555">980</text>
<line x1="82.9" y1="337.3" x2="82.9" y2="335.8" stroke="#999" stroke-width="0.5"/>
<text x="82.9" y="341.6" text-anchor="middle" style="font-family:Liberation Serif;font-size:3.5px;fill:#555">3200</text>
<line x1="95.4" y1="337.3" x2="95.4" y2="335.8" stroke="#999" stroke-width="0.5"/>
<text x="95.4" y="341.6" text-anchor="middle" style="font-family:Liberation Serif;font-size:3.5px;fill:#555">3280</text>
<line x1="107.8" y1="337.3" x2="107.8" y2="335.8" stroke="#999" stroke-width="0.5"/>
<text x="107.8" y="341.6" text-anchor="middle" style="font-family:Liberation Serif;font-size:3.5px;fill:#555">3360</text>
<line x1="120.2" y1="337.3" x2="120.2" y2="335.8" stroke="#999" stroke-width="0.5"/>
<text x="120.2" y="341.6" text-anchor="middle" style="font-family:Liberation Serif;font-size:3.5px;fill:#555">3440</text>
<line x1="132.7" y1="337.3" x2="132.7" y2="335.8" stroke="#999" stroke-width="0.5"/>
<text x="132.7" y="341.6" text-anchor="middle" style="font-family:Liberation Serif;font-size:3.5px;fill:#555">3520</text>
<line x1="145.2" y1="337.3" x2="145.2" y2="335.8" stroke="#999" stroke-width="0.5"/>
<text x="145.2" y="341.6" text-anchor="middle" style="font-family:Liberation Serif;font-size:3.5px;fill:#555">3600</text>
<polyline points="91.9,337.3 95.0,334.2 105.0,333.6 108.6,328.7 114.1,328.2 116.8,324.5 121.4,322.7 126.8,318.2 135.9,318.2 138.6,313.3 142.3,312.4 144.1,308.5 145.9,308.5" fill="none" stroke="#e61e24" stroke-width="1.3" stroke-linejoin="round"/>
<polyline points="91.9,337.3 95.0,330.9 105.0,330.0 108.6,324.5 114.1,324.2 116.8,320.9 121.4,319.1 126.8,314.2 135.9,314.2 138.6,309.1 142.3,308.2 144.1,304.2 145.9,304.2" fill="none" stroke="#1f2ee6" stroke-width="1.3" stroke-linejoin="round"/>
<polyline points="78.6,337.3 80.5,332.7 83.2,330.5 90.5,330.0 93.2,325.5 95.0,321.5 105.0,320.4 108.6,314.5 114.1,314.2 116.8,310.9 121.4,309.1 126.8,303.6 135.9,303.6 138.6,298.2 142.3,297.3 144.1,293.6 145.9,293.6" fill="none" stroke="#1e9a1e" stroke-width="1.3" stroke-linejoin="round"/>
<text x="285.5" y="229" class="pl">(d)</text>
<line x1="322.0" y1="402.0" x2="322.0" y2="399.0" stroke="#333" stroke-width="1"/>
<line x1="322.0" y1="237.0" x2="322.0" y2="240.0" stroke="#333" stroke-width="1"/>
<text x="322.0" y="412.3" text-anchor="middle" class="tk">0</text>
<line x1="352.8" y1="402.0" x2="352.8" y2="399.0" stroke="#333" stroke-width="1"/>
<line x1="352.8" y1="237.0" x2="352.8" y2="240.0" stroke="#333" stroke-width="1"/>
<text x="352.8" y="412.3" text-anchor="middle" class="tk">500</text>
<line x1="383.7" y1="402.0" x2="383.7" y2="399.0" stroke="#333" stroke-width="1"/>
<line x1="383.7" y1="237.0" x2="383.7" y2="240.0" stroke="#333" stroke-width="1"/>
<text x="383.7" y="412.3" text-anchor="middle" class="tk">1000</text>
<line x1="414.5" y1="402.0" x2="414.5" y2="399.0" stroke="#333" stroke-width="1"/>
<line x1="414.5" y1="237.0" x2="414.5" y2="240.0" stroke="#333" stroke-width="1"/>
<text x="414.5" y="412.3" text-anchor="middle" class="tk">1500</text>
<line x1="445.3" y1="402.0" x2="445.3" y2="399.0" stroke="#333" stroke-width="1"/>
<line x1="445.3" y1="237.0" x2="445.3" y2="240.0" stroke="#333" stroke-width="1"/>
<text x="445.3" y="412.3" text-anchor="middle" class="tk">2000</text>
<line x1="476.2" y1="402.0" x2="476.2" y2="399.0" stroke="#333" stroke-width="1"/>
<line x1="476.2" y1="237.0" x2="476.2" y2="240.0" stroke="#333" stroke-width="1"/>
<text x="476.2" y="412.3" text-anchor="middle" class="tk">2500</text>
<line x1="507.0" y1="402.0" x2="507.0" y2="399.0" stroke="#333" stroke-width="1"/>
<line x1="507.0" y1="237.0" x2="507.0" y2="240.0" stroke="#333" stroke-width="1"/>
<text x="507.0" y="412.3" text-anchor="middle" class="tk">3000</text>
<line x1="537.8" y1="402.0" x2="537.8" y2="399.0" stroke="#333" stroke-width="1"/>
<line x1="537.8" y1="237.0" x2="537.8" y2="240.0" stroke="#333" stroke-width="1"/>
<text x="537.8" y="412.3" text-anchor="middle" class="tk">3500</text>
<line x1="322.0" y1="402.0" x2="325.0" y2="402.0" stroke="#333" stroke-width="1"/>
<line x1="544.0" y1="402.0" x2="541.0" y2="402.0" stroke="#333" stroke-width="1"/>
<text x="318.3" y="404.8" text-anchor="end" class="tk" style="font-size:7.2px">0. 55</text>
<line x1="322.0" y1="385.5" x2="325.0" y2="385.5" stroke="#333" stroke-width="1"/>
<line x1="544.0" y1="385.5" x2="541.0" y2="385.5" stroke="#333" stroke-width="1"/>
<text x="318.3" y="388.3" text-anchor="end" class="tk" style="font-size:7.2px">0. 56</text>
<line x1="322.0" y1="369.0" x2="325.0" y2="369.0" stroke="#333" stroke-width="1"/>
<line x1="544.0" y1="369.0" x2="541.0" y2="369.0" stroke="#333" stroke-width="1"/>
<text x="318.3" y="371.8" text-anchor="end" class="tk" style="font-size:7.2px">0. 57</text>
<line x1="322.0" y1="352.5" x2="325.0" y2="352.5" stroke="#333" stroke-width="1"/>
<line x1="544.0" y1="352.5" x2="541.0" y2="352.5" stroke="#333" stroke-width="1"/>
<text x="318.3" y="355.3" text-anchor="end" class="tk" style="font-size:7.2px">0. 58</text>
<line x1="322.0" y1="336.0" x2="325.0" y2="336.0" stroke="#333" stroke-width="1"/>
<line x1="544.0" y1="336.0" x2="541.0" y2="336.0" stroke="#333" stroke-width="1"/>
<text x="318.3" y="338.8" text-anchor="end" class="tk" style="font-size:7.2px">0. 59</text>
<line x1="322.0" y1="319.5" x2="325.0" y2="319.5" stroke="#333" stroke-width="1"/>
<line x1="544.0" y1="319.5" x2="541.0" y2="319.5" stroke="#333" stroke-width="1"/>
<text x="318.3" y="322.3" text-anchor="end" class="tk" style="font-size:7.2px">0. 60</text>
<line x1="322.0" y1="303.0" x2="325.0" y2="303.0" stroke="#333" stroke-width="1"/>
<line x1="544.0" y1="303.0" x2="541.0" y2="303.0" stroke="#333" stroke-width="1"/>
<text x="318.3" y="305.8" text-anchor="end" class="tk" style="font-size:7.2px">0. 61</text>
<line x1="322.0" y1="286.5" x2="325.0" y2="286.5" stroke="#333" stroke-width="1"/>
<line x1="544.0" y1="286.5" x2="541.0" y2="286.5" stroke="#333" stroke-width="1"/>
<text x="318.3" y="289.3" text-anchor="end" class="tk" style="font-size:7.2px">0. 62</text>
<line x1="322.0" y1="270.0" x2="325.0" y2="270.0" stroke="#333" stroke-width="1"/>
<line x1="544.0" y1="270.0" x2="541.0" y2="270.0" stroke="#333" stroke-width="1"/>
<text x="318.3" y="272.8" text-anchor="end" class="tk" style="font-size:7.2px">0. 63</text>
<line x1="322.0" y1="253.5" x2="325.0" y2="253.5" stroke="#333" stroke-width="1"/>
<line x1="544.0" y1="253.5" x2="541.0" y2="253.5" stroke="#333" stroke-width="1"/>
<text x="318.3" y="256.3" text-anchor="end" class="tk" style="font-size:7.2px">0. 64</text>
<line x1="322.0" y1="237.0" x2="325.0" y2="237.0" stroke="#333" stroke-width="1"/>
<line x1="544.0" y1="237.0" x2="541.0" y2="237.0" stroke="#333" stroke-width="1"/>
<text x="318.3" y="239.8" text-anchor="end" class="tk" style="font-size:7.2px">0. 65</text>
<rect x="322.0" y="237.0" width="222.0" height="165.0" fill="none" stroke="#7c7c7c" stroke-width="1.5"/>
<polyline points="322.0,319.6 324.2,318.9 326.4,316.6 328.7,316.2 330.9,313.9 333.1,314.3 335.3,311.6 337.5,311.9 339.8,309.7 342.0,310.3 344.2,308.2 346.4,309.1 348.6,307.1 350.9,307.8 353.1,306.2 355.3,306.8 357.5,304.8 359.7,305.5 362.0,303.0 364.2,303.3 366.4,301.4 368.6,302.5 370.8,300.3 373.1,301.0 375.3,300.6 377.5,302.9 379.7,302.1 381.9,303.2 384.2,302.5 386.4,303.2 388.6,302.6 390.8,304.0 393.0,303.2 395.3,305.0 397.5,304.5 399.7,307.1 401.9,306.1 404.1,307.1 406.4,305.2 408.6,307.2 410.8,306.7 413.0,308.9 415.2,308.0 417.5,310.5 419.7,310.3 421.9,312.5 424.1,312.3 426.3,314.3 428.6,312.7 430.8,313.6 433.0,311.9 435.2,312.8 437.4,310.8 439.7,313.3 441.9,313.8 444.1,316.6 446.3,317.9 448.5,322.1 450.8,323.2 453.0,325.2 455.2,325.4 457.4,327.2 459.6,328.1 461.9,330.6 464.1,331.2 466.3,334.1 468.5,334.4 470.7,337.7 473.0,337.4 475.2,339.9 477.4,339.3 479.6,341.5 481.8,341.0 484.1,342.6 486.3,341.9 488.5,343.2 490.7,342.8 492.9,345.0 495.2,345.8 497.4,348.0 499.6,347.4 501.8,349.3 504.0,348.7 506.3,350.7 508.5,349.6 510.7,352.3 512.9,351.9 515.1,354.6 517.4,354.9 519.6,357.5 521.8,357.4 524.0,360.0 526.2,360.1 528.5,362.9 530.7,362.9 532.9,365.4 535.1,365.1 537.3,367.2 539.6,367.1 541.8,369.2 544.0,369.5" fill="none" stroke="#1e9a1e" stroke-width="1.70" stroke-linejoin="round" stroke-linecap="round"/>
<polyline points="322.0,319.6 323.7,321.0 325.4,319.0 327.1,319.9 328.8,316.7 330.5,319.9 332.2,318.6 334.0,319.9 335.7,318.4 337.4,320.7 339.1,319.8 340.8,324.8 342.5,321.6 344.2,324.2 345.9,323.2 347.6,326.7 349.3,323.4 351.0,325.0 352.7,322.7 354.4,325.3 356.2,323.2 357.9,326.4 359.6,324.0 361.3,327.5 363.0,325.8 364.7,327.4 366.4,324.6 368.1,325.5 369.8,322.8 371.5,324.9 373.2,322.4 374.9,327.6 376.6,326.7 378.4,330.4 380.1,329.5 381.8,332.3 383.5,330.3 385.2,333.7 386.9,330.1 388.6,333.1 390.3,329.6 392.0,332.7 393.7,329.3 395.4,332.4 397.1,331.7 398.8,336.4 400.6,335.1 402.3,336.9 404.0,334.0 405.7,336.4 407.4,333.0 409.1,335.8 410.8,333.8 412.5,337.3 414.2,335.9 415.9,338.9 417.6,337.3 419.3,340.2 421.0,339.1 422.8,342.9 424.5,341.8 426.2,343.7 427.9,339.4 429.6,338.9 431.3,334.5 433.0,334.4 434.7,330.7 436.4,331.5 438.1,329.3 439.8,333.9 441.5,334.3 443.2,338.3 445.0,337.4 446.7,342.0 448.4,339.7 450.1,345.2 451.8,341.9 453.5,346.0 455.2,342.2 456.9,347.1 458.6,342.1 460.3,346.8 462.0,341.4 463.7,347.4 465.4,342.8 467.2,346.4 468.9,343.8 470.6,347.8 472.3,342.9 474.0,348.1 475.7,342.3 477.4,347.4 479.1,338.8 480.8,341.6 482.5,337.3 484.2,343.4 485.9,341.9 487.6,347.7 489.4,342.7 491.1,345.6 492.8,342.7 494.5,347.3 496.2,341.5 497.9,346.3 499.6,341.2 501.3,345.8 503.0,340.2 504.7,345.0 506.4,338.6 508.1,342.7 509.8,338.1 511.6,344.5 513.3,339.7 515.0,346.9 516.7,343.3 518.4,348.6 520.1,343.5 521.8,348.5 523.5,344.1 525.2,348.8 526.9,342.8 528.6,347.1 530.3,343.1 532.0,347.4 533.8,341.4 535.5,347.0 537.2,342.5 538.9,346.8 540.6,343.4 542.3,347.2 544.0,345.1" fill="none" stroke="#1f2ee6" stroke-width="1.60" stroke-linejoin="round" stroke-linecap="round"/>
<polyline points="322.0,319.6 324.2,318.2 326.4,315.2 328.7,314.6 330.9,311.9 333.1,311.9 335.3,310.2 337.5,310.4 339.8,308.0 342.0,308.1 344.2,306.2 346.4,307.0 348.6,306.3 350.9,306.9 353.1,304.8 355.3,305.4 357.5,303.4 359.7,303.6 362.0,302.1 364.2,302.6 366.4,300.4 368.6,300.8 370.8,298.6 373.1,299.4 375.3,299.5 377.5,302.0 379.7,301.1 381.9,302.1 384.2,300.5 386.4,301.5 388.6,300.3 390.8,301.8 393.0,300.6 395.3,302.5 397.5,301.4 399.7,303.1 401.9,301.9 404.1,302.6 406.4,301.6 408.6,302.8 410.8,302.3 413.0,304.0 415.2,303.5 417.5,305.7 419.7,304.8 421.9,306.1 424.1,305.2 426.3,306.3 428.6,304.2 430.8,304.9 433.0,303.0 435.2,303.5 437.4,302.2 439.7,305.0 441.9,304.7 444.1,307.8 446.3,307.7 448.5,310.5 450.8,310.5 453.0,311.8 455.2,311.4 457.4,313.0 459.6,313.4 461.9,315.2 464.1,314.8 466.3,316.9 468.5,316.3 470.7,318.9 473.0,318.3 475.2,320.8 477.4,320.0 479.6,321.6 481.8,320.5 484.1,321.8 486.3,322.4 488.5,324.9 490.7,325.7 492.9,327.4 495.2,327.1 497.4,328.7 499.6,327.2 501.8,329.2 504.0,327.9 506.3,329.6 508.5,328.3 510.7,330.1 512.9,329.6 515.1,332.1 517.4,332.0 519.6,334.1 521.8,334.8 524.0,337.5 526.2,337.7 528.5,339.6 530.7,340.2 532.9,342.6 535.1,341.4 537.3,342.6 539.6,341.8 541.8,343.1 544.0,342.8" fill="none" stroke="#9a2cf0" stroke-width="1.70" stroke-linejoin="round" stroke-linecap="round"/>
<polyline points="322.0,319.6 324.2,318.3 326.4,315.1 328.7,314.4 330.9,312.1 333.1,312.4 335.3,309.9 337.5,310.1 339.8,308.2 342.0,308.2 344.2,306.3 346.4,307.5 348.6,305.8 350.9,307.1 353.1,305.8 355.3,307.4 357.5,306.0 359.7,307.2 362.0,305.8 364.2,306.6 366.4,304.7 368.6,305.8 370.8,303.6 373.1,304.6 375.3,304.3 377.5,306.4 379.7,305.7 381.9,307.4 384.2,306.7 386.4,308.3 388.6,307.3 390.8,308.6 393.0,307.6 395.3,308.5 397.5,308.1 399.7,310.6 401.9,310.2 404.1,311.5 406.4,310.8 408.6,312.2 410.8,311.9 413.0,313.2 415.2,312.8 417.5,314.5 419.7,313.8 421.9,316.8 424.1,315.9 426.3,318.0 428.6,315.8 430.8,316.0 433.0,314.5 435.2,314.6 437.4,312.9 439.7,315.3 441.9,315.2 444.1,318.3 446.3,317.8 448.5,320.7 450.8,320.7 453.0,321.9 455.2,320.6 457.4,321.9 459.6,320.7 461.9,321.9 464.1,320.9 466.3,322.6 468.5,322.0 470.7,323.9 473.0,322.8 475.2,324.5 477.4,323.8 479.6,324.7 481.8,322.7 484.1,323.4 486.3,322.1 488.5,324.3 490.7,323.0 492.9,325.1 495.2,324.6 497.4,325.0 499.6,323.4 501.8,323.8 504.0,321.8 506.3,323.3 508.5,321.5 510.7,322.3 512.9,321.1 515.1,322.9 517.4,322.1 519.6,324.0 521.8,322.8 524.0,324.8 526.2,324.1 528.5,325.0 530.7,323.4 532.9,324.8 535.1,322.4 537.3,323.2 539.6,321.0 541.8,322.7 544.0,322.2" fill="none" stroke="#e61e24" stroke-width="1.70" stroke-linejoin="round" stroke-linecap="round"/>
<line x1="322" y1="319.5" x2="544" y2="319.5" stroke="#444" stroke-width="1.3" stroke-dasharray="4.2,2.8"/>
<line x1="352.7" y1="249.1" x2="370.0" y2="249.1" stroke="#9a2cf0" stroke-width="1.4"/>
<text x="374.5" y="251.9" class="lg" style="font-size:8.0px" textLength="55.0" lengthAdjust="spacingAndGlyphs">State machine</text>
<line x1="352.7" y1="258.7" x2="370.0" y2="258.7" stroke="#1e9a1e" stroke-width="1.4"/>
<text x="374.5" y="261.5" class="lg" style="font-size:8.0px" textLength="46.5" lengthAdjust="spacingAndGlyphs">Fuzzy-logic</text>
<line x1="352.7" y1="268.2" x2="370.0" y2="268.2" stroke="#1f2ee6" stroke-width="1.4"/>
<text x="374.5" y="271.0" class="lg" style="font-size:8.0px" textLength="16.6" lengthAdjust="spacingAndGlyphs">ECMS</text>
<line x1="352.7" y1="277.6" x2="370.0" y2="277.6" stroke="#e61e24" stroke-width="1.4"/>
<text x="374.5" y="280.4" class="lg" style="font-size:8.0px" textLength="25.1" lengthAdjust="spacingAndGlyphs">A-ECMS</text>
<text x="418" y="423" class="lb" style="font-size:8.0px" textLength="29.3" lengthAdjust="spacingAndGlyphs">Time(s)</text>
<g transform="translate(301.3,319.2) rotate(-90)"><text x="0" y="0" text-anchor="middle" class="tk" style="font-size:7.6px">SOC</text></g>
</svg></body></html>
